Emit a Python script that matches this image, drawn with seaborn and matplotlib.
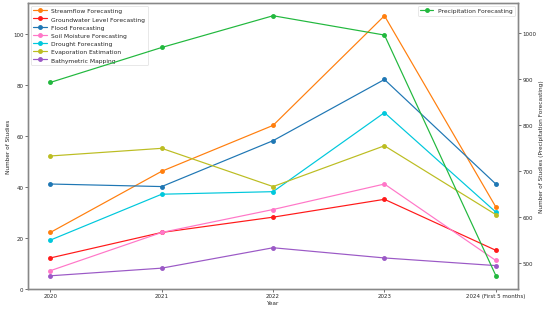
import pandas as pd
import matplotlib
matplotlib.use('Agg')
import matplotlib.pyplot as plt
import seaborn as sns

# Dữ liệu
years = ['2020', '2021', '2022', '2023', '2024 (First 5 months)']
streamflow = [22, 46, 64, 107, 32]
groundwater = [12, 22, 28, 35, 15]
flood = [41, 40, 58, 82, 41]
soil_moisture = [7, 22, 31, 41, 11]
drought = [19, 37, 38, 69, 30]
evaporation = [52, 55, 40, 56, 29]
bathymetric = [5, 8, 16, 12, 9]
precipitation = [892, 968, 1037, 995, 472]

series = {
    'Streamflow Forecasting': streamflow,
    'Groundwater Level Forecasting': groundwater,
    'Flood Forecasting': flood,
    'Soil Moisture Forecasting': soil_moisture,
    'Drought Forecasting': drought,
    'Evaporation Estimation': evaporation,
    'Bathymetric Mapping': bathymetric,
}
colors = {
    'Streamflow Forecasting': '#ff7f0e',
    'Groundwater Level Forecasting': '#ff1a1a',
    'Flood Forecasting': '#1f77b4',
    'Soil Moisture Forecasting': '#ff77c8',
    'Drought Forecasting': '#00c8dc',
    'Evaporation Estimation': '#bcbd22',
    'Bathymetric Mapping': '#9b59c6',
}

rows = []
for name, vals in series.items():
    for y, v in zip(years, vals):
        rows.append({'Year': y, 'Studies': v, 'Application': name})
df = pd.DataFrame(rows)
df_p = pd.DataFrame({'Year': years, 'Studies': precipitation,
                     'Application': 'Precipitation Forecasting'})

sns.set_style('white')
fig, ax = plt.subplots(figsize=(14, 7.89), dpi=550 / 14)

sns.lineplot(data=df, x='Year', y='Studies', hue='Application', palette=colors,
             marker='o', markersize=9, markeredgewidth=0, linewidth=2.2,
             sort=False, ax=ax)
ax.set_ylim(bottom=0)
ax.set_xlabel('Year', fontsize=10.5)
ax.set_ylabel('Number of Studies', fontsize=10.5)
ax.legend(loc='upper left', fontsize=11, handlelength=2.2)

ax2 = ax.twinx()
sns.lineplot(data=df_p, x='Year', y='Studies', hue='Application',
             palette={'Precipitation Forecasting': '#22b83e'},
             marker='o', markersize=9, markeredgewidth=0, linewidth=2.2,
             sort=False, ax=ax2)
ax2.set_ylabel('Number of Studies (Precipitation Forecasting)', fontsize=10.5)
ax2.legend(loc='upper right', fontsize=11, handlelength=2.2)

for a in (ax, ax2):
    for s in a.spines.values():
        s.set_color('#888888')
        s.set_linewidth(2.5)
    a.tick_params(axis='both', labelsize=10, length=5, width=1.5, color='#555555')
ax.tick_params(left=True, bottom=True)

fig.subplots_adjust(left=0.051, right=0.942, top=0.988, bottom=0.066)
plt.savefig('out.png')
